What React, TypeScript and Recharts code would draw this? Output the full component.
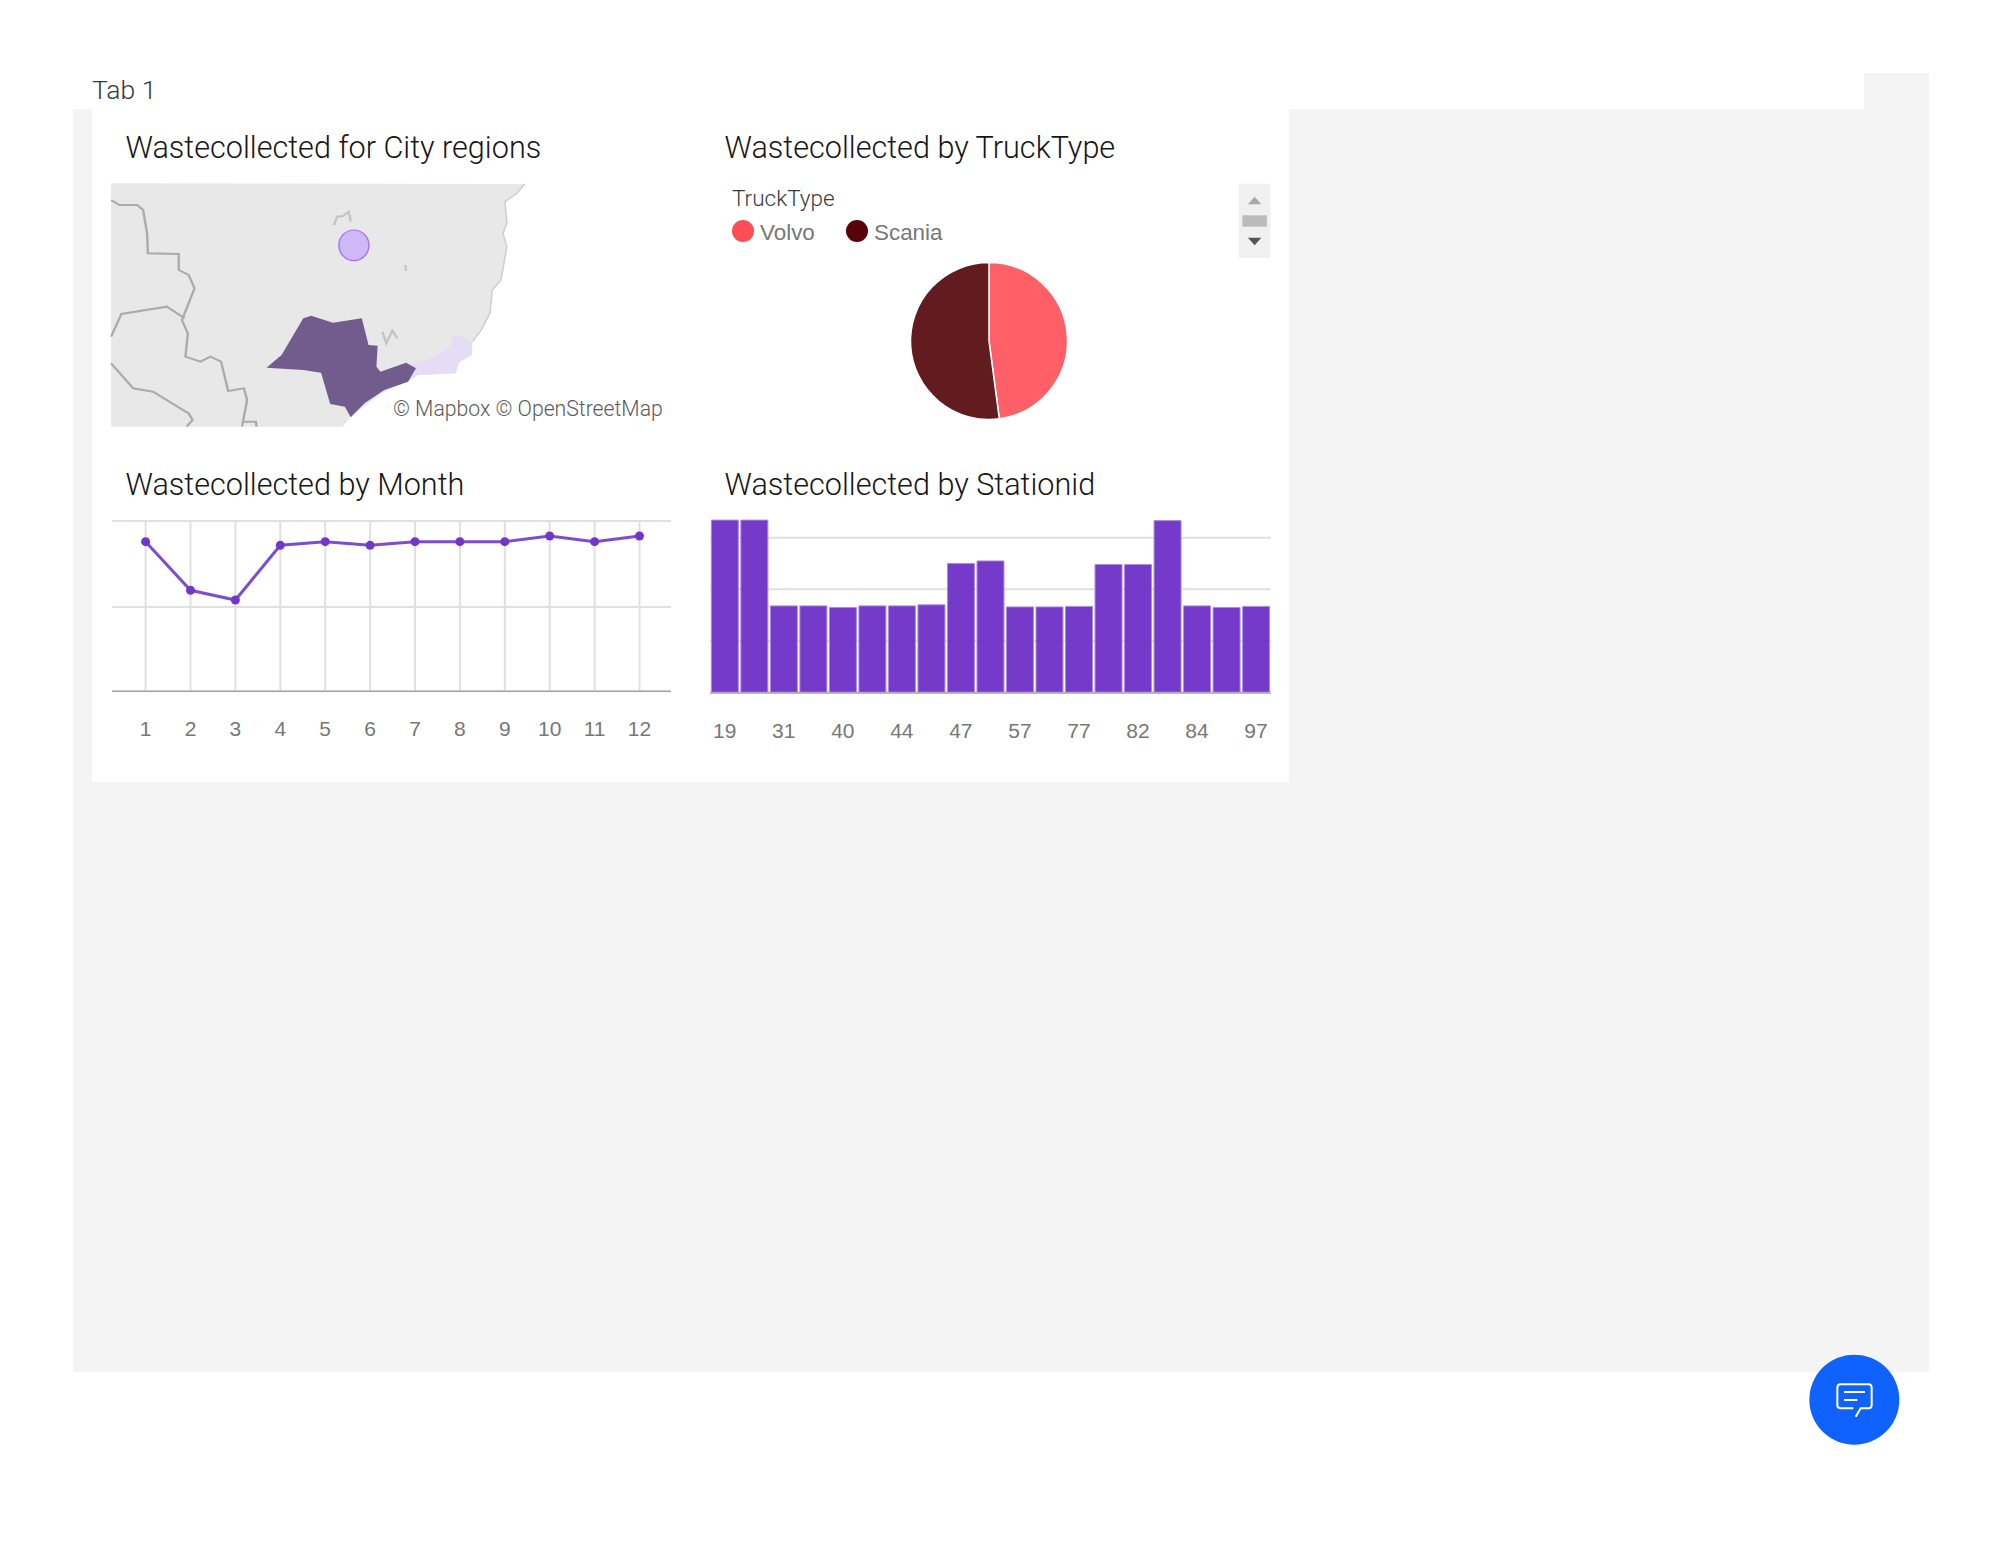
import React from "react";
import {
  Bar,
  BarChart,
  CartesianGrid,
  Cell,
  Line,
  LineChart,
  Pie,
  PieChart,
  XAxis,
  YAxis,
} from "recharts";

const months = ["1", "2", "3", "4", "5", "6", "7", "8", "9", "10", "11", "12"];
const monthWaste = [35140, 23720, 21440, 34290, 35140, 34290, 35140, 35140, 35140, 36480, 35140, 36480];
const monthTicks = [0, 19800, 40000];

const stations = ["19", "25", "31", "36", "40", "42", "44", "46", "47", "52", "57", "70", "77", "80", "82", "83", "84", "90", "97"];
const stationWaste = [334, 334, 168, 168, 165, 168, 168, 170, 250, 255, 166, 166, 167, 248, 248, 333, 168, 165, 167];
const stationTicks = [0, 100, 200, 300];

const truckTypes = ["Volvo", "Scania"];
const truckWaste = [47.9, 52.1];
const truckFills = ["#ff6068", "#621c20"];
const truckDots = ["#fa4d56", "#570408"];

const monthData = months.map((month, i) => ({ month, waste: monthWaste[i] }));
const stationData = stations.map((station, i) => ({ station, waste: stationWaste[i] }));
const truckData = truckTypes.map((name, i) => ({ name, waste: truckWaste[i] }));

const SANS = "Roboto, sans-serif";
const AXIS = "'Liberation Sans', Arial, sans-serif";

const box = (left: number, top: number, width: number, height: number, background: string): React.CSSProperties => ({
  position: "absolute",
  left,
  top,
  width,
  height,
  background,
});

function Label({ x, y, size, color, font = SANS, weight = 300, children }: any) {
  return (
    <div
      style={{
        position: "absolute",
        left: x,
        top: y - 20,
        height: 40,
        lineHeight: "40px",
        fontSize: size,
        color,
        fontFamily: font,
        fontWeight: weight,
        whiteSpace: "nowrap",
      }}
    >
      {children}
    </div>
  );
}

function MapPanel() {
  return (
    <svg
      style={{ position: "absolute", left: 70, top: 60 }}
      width={620}
      height={400}
      viewBox="0 0 1568 1200"
      preserveAspectRatio="none"
    >
      <path
        d="M104 370 L1150 372 L1130 400 L1100 425 L1105 490 L1095 520 L1105 560 L1090 660 L1068 690 L1062 760 L1040 810 L1018 845 L1016 885 L985 905 L975 940 L880 945 L850 965 L790 1000 L710 1070 L690 1100 L104 1100 Z"
        fill="#e8e8e8"
      />
      <path
        d="M1150 372 L1130 400 L1100 425 L1105 490 L1095 520 L1105 560 L1090 660 L1068 690 L1062 760 L1040 810 L1018 845"
        fill="none"
        stroke="#cfcfcf"
        strokeWidth={4}
      />
      <g fill="none" stroke="#ababab" strokeWidth={6}>
        <path d="M104 420 L125 435 L170 435 L185 450 L195 520 L197 580 L275 582 L275 630 L300 645 L315 685 L295 745 L283 780 L298 820 L292 890 L330 905 L355 890 L382 905 L400 993 L440 985 L448 1020 L435 1100" />
        <path d="M104 830 L130 762 L245 740 L290 775" />
        <path d="M104 910 L160 985 L210 995 L300 1060 L310 1080 L295 1100" />
        <path d="M435 1085 L470 1085 L472 1100" />
      </g>
      <g fill="none" stroke="#c4c4c4" strokeWidth={6}>
        <path d="M668 495 L675 470 L690 468 L705 455 L710 485" />
        <path d="M790 815 L800 850 L815 812 L828 835" />
        <path d="M848 615 L850 632" />
      </g>
      <path
        d="M850 915 L925 890 L960 860 L975 820 L1017 850 L1016 885 L985 905 L975 940 L880 945 L855 965 Z"
        fill="#e6dcf5"
      />
      <path
        d="M497 923 L535 885 L590 775 L610 767 L665 788 L738 775 L755 855 L778 857 L775 920 L785 935 L850 908 L875 925 L855 965 L795 990 L745 1030 L710 1072 L695 1040 L658 1032 L635 938 L590 930 Z"
        fill="#725c8d"
      />
      <ellipse cx={718} cy={556} rx={38} ry={46} fill="#cfb8f8" stroke="#a56eff" strokeWidth={3.5} />
    </svg>
  );
}

function LegendScroll() {
  return (
    <svg
      style={{ position: "absolute", left: 690, top: 110 }}
      width={620}
      height={340}
      viewBox="0 0 1568 1020"
      preserveAspectRatio="none"
    >
      <rect x={1388} y={221} width={80} height={223} fill="#f0f0f0" />
      <path d="M1428 260 L1445 283 L1411 283 Z" fill="#a9a9a9" />
      <rect x={1397} y={316} width={62} height={34} fill="#bbbbbb" />
      <path d="M1411 383 L1445 383 L1428 406 Z" fill="#555555" />
    </svg>
  );
}

function ChatButton() {
  return (
    <svg style={{ position: "absolute", left: 1780, top: 1340 }} width={150} height={130} viewBox="0 0 450 390">
      <circle cx={223} cy={179} r={135} fill="#0f62fe" />
      <g fill="none" stroke="#ffffff" strokeWidth={6}>
        <path d="M220 205 L182 205 Q172 205 172 195 L172 143 Q172 133 182 133 L265 133 Q275 133 275 143 L275 195 Q275 205 265 205 L242 205 L227 230" />
        <path d="M192 156 L255 156" />
        <path d="M192 180 L232 180" />
      </g>
    </svg>
  );
}

export default function App() {
  return (
    <div style={{ position: "absolute", left: 0, top: 0, width: 1999, height: 1545, background: "#ffffff", overflow: "hidden" }}>
      <div style={box(73, 109, 1856, 1263, "#f4f4f4")} />
      <div style={box(1864, 73, 65, 36, "#f4f4f4")} />
      <div style={box(92, 109, 1197, 673, "#ffffff")} />

      <Label x={92} y={90} size={26.5} color="#393939">Tab 1</Label>
      <Label x={125.5} y={147.5} size={30.6} color="#161616">Wastecollected for City regions</Label>
      <Label x={724.5} y={147.5} size={30.6} color="#161616">Wastecollected by TruckType</Label>
      <Label x={125.5} y={484.5} size={30.6} color="#161616">Wastecollected by Month</Label>
      <Label x={724.5} y={484.5} size={30.6} color="#161616">Wastecollected by Stationid</Label>

      <MapPanel />
      <Label x={393} y={409} size={21.2} color="#5a5a5a">© Mapbox © OpenStreetMap</Label>

      <Label x={732} y={198} size={22.5} color="#393939">TruckType</Label>
      {truckTypes.map((name, i) => (
        <React.Fragment key={name}>
          <div
            style={{
              ...box(i === 0 ? 732 : 846, 219.5, 22, 22, truckDots[i]),
              borderRadius: "50%",
            }}
          />
          <Label x={i === 0 ? 760 : 874} y={233} size={22.4} color="#777777" font={AXIS} weight={400}>
            {name}
          </Label>
        </React.Fragment>
      ))}
      <LegendScroll />

      <div style={{ position: "absolute", left: 889, top: 241.2 }}>
        <PieChart width={200} height={200} margin={{ top: 0, right: 0, bottom: 0, left: 0 }}>
          <Pie
            data={truckData}
            dataKey="waste"
            nameKey="name"
            cx={100}
            cy={100}
            innerRadius={0}
            outerRadius={78.5}
            startAngle={90}
            endAngle={-270}
            stroke="#ffffff"
            strokeWidth={1.5}
            isAnimationActive={false}
          >
            {truckData.map((entry, i) => (
              <Cell key={entry.name} fill={truckFills[i]} />
            ))}
          </Pie>
        </PieChart>
      </div>

      <div style={{ position: "absolute", left: 112, top: 516 }}>
        <LineChart width={559} height={255} data={monthData} margin={{ top: 5, right: 0, bottom: 0, left: 0 }}>
          <CartesianGrid stroke="#e0e0e0" strokeWidth={2} syncWithTicks />
          <XAxis
            dataKey="month"
            scale="point"
            padding={{ left: 33.6, right: 31.5 }}
            interval={0}
            height={79.7}
            tickLine={false}
            tickSize={0}
            tickMargin={29.5}
            axisLine={{ stroke: "#a8a8a8", strokeWidth: 1.5 }}
            tick={{ fontSize: 21, fill: "#777777", fontFamily: AXIS }}
          />
          <YAxis hide domain={[0, 40000]} ticks={monthTicks} />
          <Line
            dataKey="waste"
            type="linear"
            stroke="#7d4dd0"
            strokeWidth={3}
            dot={{ r: 4.5, fill: "#7236c8", stroke: "#7236c8", strokeWidth: 0, fillOpacity: 1 }}
            isAnimationActive={false}
          />
        </LineChart>
      </div>

      <div style={{ position: "absolute", left: 710.2, top: 515.2 }}>
        <BarChart
          width={560.8}
          height={257.7}
          data={stationData}
          barCategoryGap={1.33}
          margin={{ top: 5, right: 0, bottom: 0, left: 0 }}
        >
          <CartesianGrid stroke="#e0e0e0" strokeWidth={2} vertical={false} syncWithTicks />
          <XAxis
            dataKey="station"
            interval={1}
            height={80}
            tickLine={false}
            tickSize={0}
            tickMargin={30.5}
            axisLine={{ stroke: "#b0a8c0", strokeWidth: 2 }}
            tick={{ fontSize: 21, fill: "#777777", fontFamily: AXIS }}
          />
          <YAxis hide domain={[0, 334.2]} ticks={stationTicks} />
          <Bar
            dataKey="waste"
            fill="#6929c4"
            fillOpacity={0.92}
            stroke="#a98de0"
            strokeWidth={1}
            isAnimationActive={false}
          />
        </BarChart>
      </div>

      <ChatButton />
    </div>
  );
}
